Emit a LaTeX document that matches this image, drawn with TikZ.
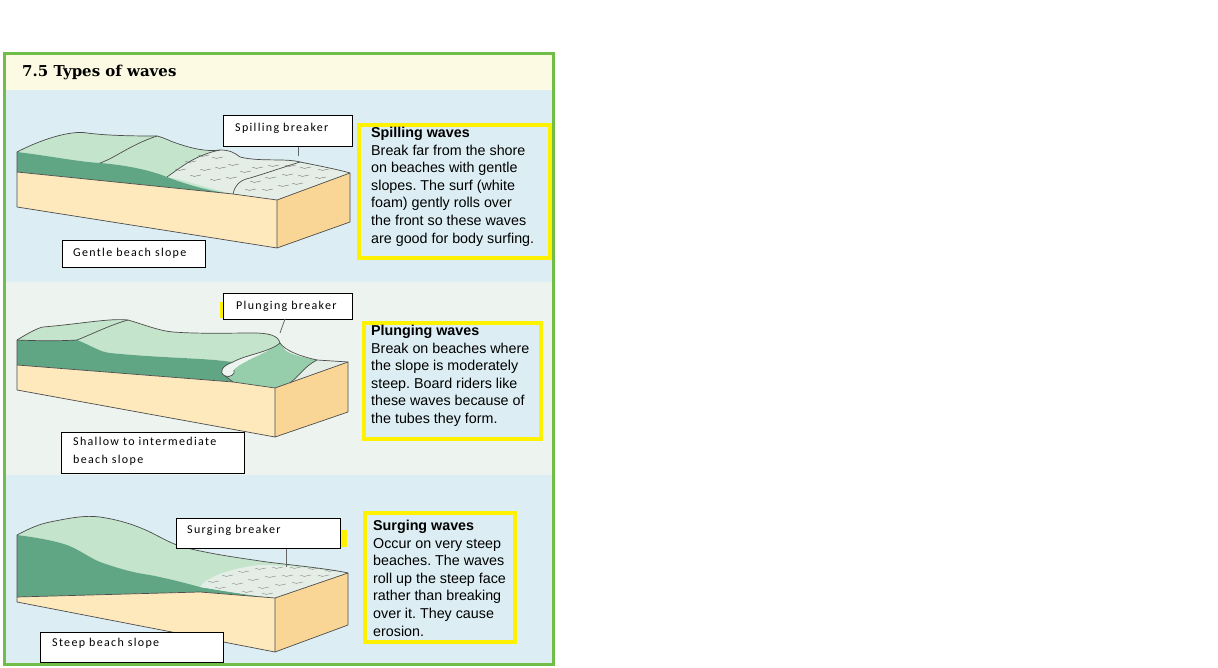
\documentclass[tikz,border=0pt]{standalone}
\usepackage{fontspec}
\setmainfont{Liberation Sans}
\newfontfamily\lblfont[LetterSpace=11]{Carlito}
\newfontfamily\ttlfont{DejaVu Serif}
\begin{document}
\begin{tikzpicture}[x=1pt,y=-1pt,
  lblbox/.style={draw=black,fill=white,line width=0.6pt,inner sep=0pt,anchor=north west},
  lbltxt/.style={anchor=west,inner sep=0pt,font=\lblfont\fontsize{12}{18}\selectfont,align=left},
  dbox/.style={draw=yellow,line width=4pt,fill=panelA,anchor=north west,inner sep=0pt},
  dtxt/.style={anchor=north west,inner sep=0pt,align=left,font=\frenchspacing\fontsize{14.3}{17.6}\selectfont},
  edge/.style={draw=black!70,line width=0.7pt,line join=round},
  lead/.style={draw=black!60,line width=0.8pt}]
\definecolor{frame}{RGB}{112,190,72}
\definecolor{cream}{RGB}{253,250,228}
\definecolor{panelA}{RGB}{220,238,243}
\definecolor{panelB}{RGB}{237,243,239}
\definecolor{sand}{RGB}{253,233,188}
\definecolor{sandd}{RGB}{250,214,150}
\definecolor{wdark}{RGB}{96,166,132}
\definecolor{wmid}{RGB}{150,205,170}
\definecolor{wlight}{RGB}{196,228,204}
\definecolor{foam}{RGB}{228,238,230}
\useasboundingbox (0,0) rectangle (1218,668);
\fill[white] (0,0) rectangle (1218,668);
\fill[cream] (4,54) rectangle (553,90);
\fill[panelA] (4,90) rectangle (553,282);
\fill[panelB] (4,282) rectangle (553,475);
\fill[panelA] (4,475) rectangle (553,664);
\draw[frame,line width=3pt] (4,54) rectangle (553,664);
\node[anchor=west,inner sep=0pt,font=\ttlfont\bfseries\fontsize{15}{18}\selectfont] (title) at (22,72) {7.5 Types of waves};

% ---------- block 1 (spilling)
\def\backA{(17,152) .. controls (40,140) and (70,130) .. (87,133) .. controls (110,136) and (140,136) .. (157,136) .. controls (165,138) and (170,141) .. (173,142) .. controls (190,148) and (205,152) .. (220,150) .. controls (230,150) and (235,153) .. (240,157) .. controls (260,162) and (285,158) .. (300,162) .. controls (320,166) and (340,170) .. (350,173)}
\fill[wlight] \backA -- (277,200) -- (233,194) .. controls (215,192) and (190,186) .. (167,177) .. controls (150,170) and (125,165) .. (100,163) .. controls (80,162) and (50,156) .. (17,152) -- cycle;
\fill[wdark] (17,152) .. controls (50,156) and (80,162) .. (100,163) .. controls (125,165) and (150,170) .. (167,177) .. controls (190,186) and (215,192) .. (233,194) -- (17,172) -- cycle;
\fill[foam] (220,150) .. controls (230,150) and (235,153) .. (240,157) .. controls (260,162) and (285,158) .. (300,162) .. controls (320,166) and (340,170) .. (350,173) -- (277,200) -- (233,194) .. controls (200,186) and (185,180) .. (167,177) .. controls (180,168) and (195,155) .. (220,150) -- cycle;
\foreach \px/\py in {175/170,185/162,198/156,212/158,200/170,215/168,228/165,190/176,210/180,226/178,240/172,252/168,268/166,285/166,300/168,318/170,250/182,265/178,282/175,298/176,315/178,262/190,278/186,292/184,245/190}
  \draw[black!45,line width=0.5pt] (\px,\py) .. controls (\px+2,\py-2) and (\px+4,\py+2) .. (\px+6,\py) .. controls (\px+8,\py-2) and (\px+9,\py+1) .. (\px+11,\py-1);
\fill[sand] (17,172) -- (233,194) -- (277,200) -- (277,248) -- (17,207) -- cycle;
\fill[sandd] (277,200) -- (350,173) -- (350,222) -- (277,248) -- cycle;
\draw[edge] (157,136) .. controls (130,145) and (115,158) .. (100,163);
\draw[edge] (220,150) .. controls (195,155) and (180,168) .. (167,177);
\draw[edge] (233,194) .. controls (235,185) and (240,180) .. (250,178) .. controls (270,172) and (290,165) .. (300,162);
\draw[edge] \backA;
\draw[edge] (17,152) -- (17,207) -- (277,248) -- (350,222) -- (350,173) -- (277,200) -- (277,248);
\draw[edge] (17,172) -- (233,194) -- (277,200);

% ---------- block 2 (plunging)
\def\backB{(17,340) .. controls (30,332) and (38,328) .. (43,327) .. controls (80,324) and (110,318) .. (128,320) .. controls (145,325) and (160,331) .. (173,332) .. controls (200,334) and (230,333) .. (253,333) .. controls (268,333) and (278,335) .. (280,343)}
\fill[wlight] \backB .. controls (270,352) and (245,355) .. (233,362) -- (215,360) .. controls (190,358) and (150,357) .. (110,353) .. controls (100,352) and (90,345) .. (77,340) -- cycle;
\fill[wdark] (17,340) .. controls (40,341) and (60,341) .. (77,340) .. controls (90,345) and (100,352) .. (110,353) .. controls (150,357) and (190,358) .. (215,360) -- (233,362) .. controls (222,366) and (218,372) .. (225,376) -- (233,382) -- (17,365) -- cycle;
\fill[wmid] (280,343) .. controls (282,347) and (283,347) .. (285,350) .. controls (290,354) and (300,357) .. (317,360) -- (348,362) -- (275,388) -- (233,382) -- (225,376) .. controls (230,378) and (236,374) .. (234,370) .. controls (240,362) and (270,352) .. (280,343) -- cycle;
\fill[foam] (317,360) -- (348,362) -- (290,383) .. controls (300,375) and (305,366) .. (317,360) -- cycle;
\fill[sand] (17,365) -- (233,382) -- (275,388) -- (275,437) -- (17,390) -- cycle;
\fill[sandd] (275,388) -- (348,362) -- (348,412) -- (275,437) -- cycle;
\draw[edge] \backB .. controls (270,352) and (245,355) .. (233,362) .. controls (222,366) and (218,372) .. (225,376) .. controls (230,378) and (236,374) .. (234,370);
\draw[edge] (128,320) .. controls (110,325) and (90,335) .. (77,340) .. controls (60,341) and (40,341) .. (17,340);
\draw[edge] (280,343) .. controls (283,347) and (290,354) .. (317,360) -- (348,362);
\draw[edge] (317,360) .. controls (305,366) and (300,375) .. (290,383);
\draw[edge] (17,340) -- (17,390) -- (275,437) -- (348,412) -- (348,362) -- (275,388) -- (275,437);
\draw[edge] (17,365) -- (233,382) -- (275,388);
\draw[edge] (225,376) -- (233,382);

% ---------- block 3 (surging)
\def\backC{(17,535) .. controls (30,528) and (40,524) .. (50,522) .. controls (70,518) and (85,515) .. (100,517) .. controls (120,520) and (135,525) .. (150,532) .. controls (162,538) and (172,544) .. (183,547) .. controls (210,554) and (240,558) .. (267,562) .. controls (300,566) and (330,569) .. (348,573)}
\def\frontC{(17,535) .. controls (40,538) and (55,541) .. (67,545) .. controls (80,550) and (90,558) .. (100,562) .. controls (120,569) and (135,573) .. (150,575) .. controls (170,579) and (185,583) .. (200,587) .. controls (230,592) and (255,596) .. (275,598)}
\fill[wlight] \backC -- (275,598) .. controls (255,596) and (230,592) .. (200,587) .. controls (185,583) and (170,579) .. (150,575) .. controls (135,573) and (120,569) .. (100,562) .. controls (90,558) and (80,550) .. (67,545) .. controls (55,541) and (40,538) .. (17,535) -- cycle;
\fill[wdark] \frontC -- (200,592) -- (17,597) -- cycle;
\fill[foam] (200,587) .. controls (230,592) and (255,596) .. (275,598) -- (348,573) .. controls (320,569) and (290,565) .. (260,565) .. controls (230,568) and (205,578) .. (200,587) -- cycle;
\foreach \px/\py in {208/582,222/576,238/572,255/569,272/568,290/568,308/569,325/571,215/588,232/584,248/580,265/577,282/576,300/576,318/576,242/592,258/588,275/585,292/583,262/594}
  \draw[black!40,line width=0.5pt] (\px,\py) .. controls (\px+2,\py-2) and (\px+4,\py+2) .. (\px+6,\py) .. controls (\px+8,\py-2) and (\px+9,\py+1) .. (\px+11,\py-1);
\fill[sand] (17,597) -- (200,592) -- (275,598) -- (275,652) -- (17,602) -- cycle;
\fill[sandd] (275,598) -- (348,573) -- (348,625) -- (275,652) -- cycle;
\draw[edge] \backC;
\draw[edge] (17,535) -- (17,602) -- (275,652) -- (348,625) -- (348,573) -- (275,598) -- (275,652);
\draw[edge] (17,597) -- (200,592) -- (275,598);

% ---------- labels
\fill[yellow] (220,302) rectangle (223,318);
\fill[yellow] (340,530) rectangle (347,547);
\node[lblbox,minimum width=129pt,minimum height=31pt] (l1) at (223,115) {};
\node[lbltxt] (t1) at (235,128) {Spilling breaker};
\node[lblbox,minimum width=143pt,minimum height=27pt] (l2) at (62,240) {};
\node[lbltxt] (t2) at (73,253) {Gentle beach slope};
\node[lblbox,minimum width=129pt,minimum height=26pt] (l3) at (223,293) {};
\node[lbltxt] (t3) at (236,306) {Plunging breaker};
\node[lblbox,minimum width=183pt,minimum height=41pt] (l4) at (61,432) {};
\node[lbltxt,anchor=north west] (t4) at (73,437) {Shallow to intermediate\\beach slope};
\node[lblbox,minimum width=164pt,minimum height=30pt] (l5) at (176,518) {};
\node[lbltxt] (t5) at (187,530) {Surging breaker};
\node[lblbox,minimum width=183pt,minimum height=30pt] (l6) at (40,632) {};
\node[lbltxt] (t6) at (52,643) {Steep beach slope};
\coordinate (p1) at (298,156);
\coordinate (p3) at (280,333);
\coordinate (p5) at (286,567);
\draw[lead] (l1.south -| p1) -- (p1);
\draw[lead] (285,319) -- (p3);
\draw[lead] (l5.south -| p5) -- (p5);

% ---------- descriptions
\node[dbox,minimum width=191pt,minimum height=133pt] (d1) at (357,123) {};
\node[dtxt] (x1) at (371,127) {\textbf{Spilling waves}\\Break far from the shore\\on beaches with gentle\\slopes. The surf (white\\foam) gently rolls over\\the front so these waves\\are good for body surfing.};
\node[dbox,minimum width=177pt,minimum height=116pt] (d2) at (362,321) {};
\node[dtxt] (x2) at (371,325) {\textbf{Plunging waves}\\Break on beaches where\\the slope is moderately\\steep. Board riders like\\these waves because of\\the tubes they form.};
\node[dbox,minimum width=150pt,minimum height=129pt] (d3) at (363,511) {};
\node[dtxt] (x3) at (373,520) {\textbf{Surging waves}\\Occur on very steep\\beaches. The waves\\roll up the steep face\\rather than breaking\\over it. They cause\\erosion.};
\end{tikzpicture}
\end{document}
